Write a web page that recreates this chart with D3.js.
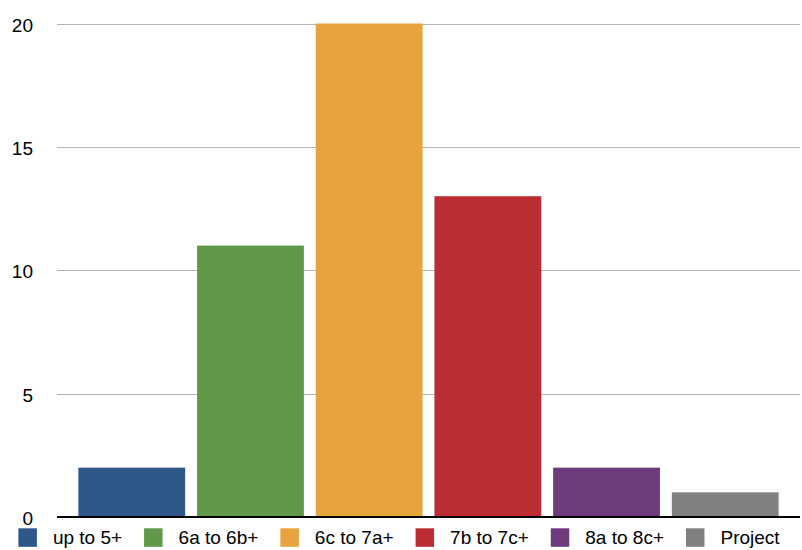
<!DOCTYPE html>
<html>
<head>
<meta charset="utf-8">
<script src="https://cdn.jsdelivr.net/npm/d3@7"></script>
<style>
  body { margin: 0; background: #fff; }
  svg { display: block; font-family: "Liberation Sans", Arial, Helvetica, sans-serif; }
</style>
</head>
<body>
<div id="chart"></div>
<script>
const categories = ['up to 5+', '6a to 6b+', '6c to 7a+', '7b to 7c+', '8a to 8c+', 'Project'];
const counts = [2, 11, 20, 13, 2, 1];
const colors = ['#2e578a', '#5f9949', '#e7a33d', '#bb2d32', '#6e3c7c', '#7f807f'];
const yTicks = [0, 5, 10, 15, 20];

const width = 802, height = 550;
const plot = { left: 57, right: 800, top: 23.5, bottom: 517 };

const svg = d3.select('#chart').append('svg')
  .attr('width', width)
  .attr('height', height);

const x = d3.scaleBand()
  .domain(categories)
  .range([plot.left, plot.right])
  .paddingInner(0.1)
  .paddingOuter(0.18);

const y = d3.scaleLinear()
  .domain([0, 20])
  .range([plot.bottom, plot.top]);

// gridlines
svg.append('g')
  .selectAll('line')
  .data(yTicks.filter(d => d > 0))
  .join('line')
  .attr('x1', plot.left)
  .attr('x2', plot.right)
  .attr('y1', d => Math.round(y(d)) + 0.5)
  .attr('y2', d => Math.round(y(d)) + 0.5)
  .attr('stroke', '#b3b3b3')
  .attr('stroke-width', 1);

// y labels
svg.append('g')
  .selectAll('text')
  .data(yTicks)
  .join('text')
  .attr('x', 33)
  .attr('y', d => y(d) + 8)
  .attr('text-anchor', 'end')
  .attr('font-size', 19)
  .attr('fill', '#000')
  .text(d => d);

// bars
svg.append('g')
  .selectAll('rect')
  .data(counts)
  .join('rect')
  .attr('x', (d, i) => x(categories[i]))
  .attr('width', x.bandwidth())
  .attr('y', d => y(d))
  .attr('height', d => y(0) - y(d))
  .attr('fill', (d, i) => colors[i]);

// baseline
svg.append('line')
  .attr('x1', plot.left)
  .attr('x2', plot.right)
  .attr('y1', y(0))
  .attr('y2', y(0))
  .attr('stroke', '#000')
  .attr('stroke-width', 2);

// legend, centred under the plot
const legend = svg.append('g');
const items = legend.selectAll('g')
  .data(categories)
  .join('g');

items.append('rect')
  .attr('width', 18.5)
  .attr('height', 18.5)
  .attr('y', 528.3)
  .attr('fill', (d, i) => colors[i]);

items.append('text')
  .attr('x', 34.5)
  .attr('y', 544)
  .attr('font-size', 19)
  .attr('fill', '#000')
  .text(d => d);

let cx = 0;
items.each(function () {
  const w = d3.select(this).select('text').node().getComputedTextLength();
  d3.select(this).attr('transform', `translate(${cx},0)`);
  cx += 34.5 + w + 22;
});
const total = cx - 22;
legend.attr('transform', `translate(${(width - total) / 2 - 2},0)`);
</script>
</body>
</html>
